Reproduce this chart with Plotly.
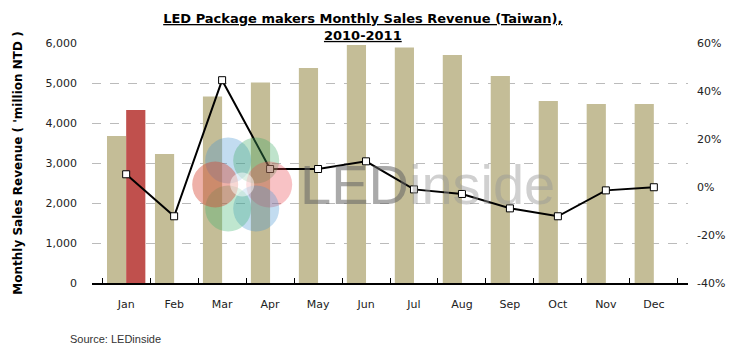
import plotly.graph_objects as go

months = ["Jan", "Feb", "Mar", "Apr", "May", "Jun", "Jul", "Aug", "Sep", "Oct", "Nov", "Dec"]
rev_2010 = [3675, 3225, 4660, 5015, 5375, 5950, 5890, 5700, 5175, 4550, 4475, 4475]
rev_2011 = [4325, None, None, None, None, None, None, None, None, None, None, None]
growth_pct = [5.3, -12.2, 44.5, 7.5, 7.5, 10.7, -1.0, -2.9, -8.9, -12.2, -1.4, -0.1]

left_ticks = [0, 1000, 2000, 3000, 4000, 5000, 6000]
right_ticks = [-40, -20, 0, 20, 40, 60]
right_labels = ["-40%", "-20%", "0%", "20%", "40%", "60%"]

font_main = "DejaVu Sans, Verdana, sans-serif"

fig = go.Figure()
fig.add_trace(go.Bar(x=months, y=rev_2010, name="2010", marker_color="#C4BD97",
                     marker_line_width=0))
fig.add_trace(go.Bar(x=months, y=rev_2011, name="2011", marker_color="#C0504D",
                     marker_line_width=0))
fig.add_trace(go.Scatter(x=months, y=growth_pct, yaxis="y2", mode="lines+markers",
                         line=dict(color="#000000", width=2),
                         marker=dict(symbol="square", size=7, color="white",
                                     line=dict(color="#000000", width=1))))

# watermark approximation (logo petals + text)
petals = [
    (-14, -24, "rgba(70,150,210,0.33)"),
    (14, -24, "rgba(60,170,100,0.33)"),
    (27, 0, "rgba(235,70,80,0.33)"),
    (14, 24, "rgba(70,150,210,0.33)"),
    (-14, 24, "rgba(60,180,110,0.33)"),
    (-27, 0, "rgba(215,70,50,0.42)"),
]
cx, cy, r = 0.252, 0.41, 23
shapes = []
for dx, dy, col in petals:
    shapes.append(dict(type="circle", xref="paper", yref="paper", xsizemode="pixel",
                       ysizemode="pixel", xanchor=cx, yanchor=cy,
                       x0=dx - r, x1=dx + r, y0=-dy - r, y1=-dy + r,
                       fillcolor=col, line_width=0, layer="above"))
shapes.append(dict(type="circle", xref="paper", yref="paper", xsizemode="pixel",
                   ysizemode="pixel", xanchor=cx, yanchor=cy, x0=-12, x1=12, y0=-12, y1=12,
                   fillcolor="rgba(255,255,255,0.5)", line_width=0, layer="above"))

annotations = [
    dict(text="<span style='color:rgba(100,100,100,0.55)'>LED</span>"
              "<span style='color:rgba(150,150,150,0.45)'>inside</span>",
         xref="paper", yref="paper", x=0.345, y=0.41, xanchor="left",
         yanchor="middle", showarrow=False,
         font=dict(family="Liberation Sans, Arial, sans-serif", size=56)),
    dict(text="Source: LEDinside", xref="paper", yref="paper", x=-0.04, y=-0.235,
         xanchor="left", yanchor="middle", showarrow=False,
         font=dict(family="Liberation Sans, Arial, sans-serif", size=11, color="#333333")),
]

fig.update_layout(
    width=742, height=354,
    margin=dict(l=92, r=54, t=43, b=71),
    paper_bgcolor="white", plot_bgcolor="white",
    barmode="group", bargap=0.2, bargroupgap=0,
    showlegend=False,
    title=dict(text="LED Package makers Monthly Sales Revenue (Taiwan),<br>2010-2011",
               x=0.489, xanchor="center", yref="container", y=0.935, yanchor="bottom",
               font=dict(family=font_main, size=13, color="#000000", weight="bold",
                         lineposition="under")),
    xaxis=dict(type="category", tickson="boundaries", ticks="inside", ticklen=5,
               tickcolor="#000000", showline=True, linecolor="#000000", linewidth=1.5,
               showgrid=False, ticklabelstandoff=10,
               tickfont=dict(family=font_main, size=11, color="#222222")),
    yaxis=dict(range=[0, 6000], tickvals=left_ticks, tickformat=",", showline=False,
               showgrid=True, gridcolor="#BBBBBB", griddash="dash", gridwidth=1,
               zeroline=False, ticks="", ticklabelstandoff=14,
               tickfont=dict(family=font_main, size=11, color="#222222"),
               title=dict(text="Monthly Sales Revenue ( 'million NTD )", standoff=20,
                          font=dict(family=font_main, size=12, color="#000000", weight="bold"))),
    yaxis2=dict(overlaying="y", side="right", range=[-40, 60], tickmode="array",
                tickvals=right_ticks, ticktext=right_labels,
                showgrid=False, zeroline=False, showline=False, ticks="",
                ticklabelstandoff=8,
                tickfont=dict(family=font_main, size=11, color="#222222")),
    shapes=shapes,
    annotations=annotations,
)

fig.write_html("out.html")
